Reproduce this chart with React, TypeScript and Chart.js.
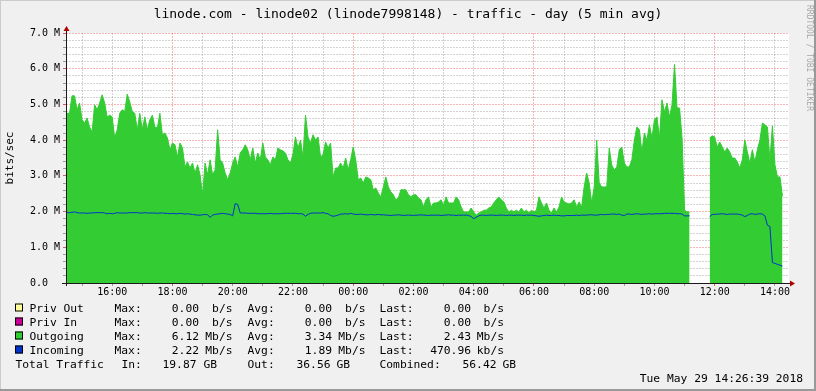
import React, { useEffect, useRef } from 'react';
import { Chart, registerables } from 'chart.js';

Chart.register(...registerables);

// ---- time base (minutes since 00:00 on May 28) ----
const AXIS_START_MINUTE = 868; // 14:28 May 28
const AXIS_END_MINUTE = 2308; // 14:28 May 29
const FIRST_SAMPLE_MINUTE = 870; // 14:30
const SAMPLE_STEP_MINUTES = 5;

// ---- series values, Mb/s, one per 5 minutes ----
const outgoingMbps: (number | null)[] = [
  4.75, 4.75, 5.24, 5.24, 4.85, 5.04, 4.57, 4.48, 4.62, 4.37,
  4.23, 4.99, 4.85, 5.04, 5.27, 5.04, 4.65, 4.70, 4.65, 4.06,
  4.29, 4.75, 4.85, 4.80, 5.29, 5.07, 4.80, 4.75, 4.29, 4.75,
  4.29, 4.65, 4.29, 4.57, 4.70, 4.37, 4.34, 4.75, 4.15, 4.20,
  4.06, 3.73, 3.92, 3.87, 3.53, 3.92, 3.78, 3.25, 3.39, 3.22,
  3.36, 3.08, 3.31, 3.03, 2.47, 3.36, 3.03, 3.45, 3.03, 3.17,
  4.29, 3.45, 3.36, 3.08, 2.89, 3.08, 3.36, 3.53, 3.25, 3.64,
  3.73, 3.87, 3.73, 3.45, 3.78, 3.36, 3.64, 3.45, 3.92, 3.53,
  3.45, 3.31, 3.53, 3.45, 3.78, 3.73, 3.70, 3.64, 3.45, 3.36,
  3.60, 4.09, 3.78, 4.00, 3.53, 4.70, 4.09, 3.92, 4.15, 4.00,
  4.09, 3.53, 3.59, 3.95, 3.78, 3.92, 2.97, 3.22, 3.22, 3.36,
  3.22, 3.50, 3.17, 3.45, 3.81, 3.45, 2.89, 2.94, 2.80, 2.97,
  2.94, 2.89, 2.61, 2.66, 2.52, 2.41, 2.69, 2.97, 2.69, 2.55,
  2.47, 2.33, 2.38, 2.61, 2.61, 2.61, 2.47, 2.41, 2.47, 2.47,
  2.38, 2.33, 2.13, 2.33, 2.41, 2.13, 2.24, 2.24, 2.27, 2.33,
  2.18, 2.41, 2.24, 2.24, 2.24, 2.41, 2.33, 2.13, 1.99, 1.99,
  1.99, 2.10, 1.99, 1.90, 1.96, 1.99, 2.04, 2.04, 2.10, 2.13,
  2.24, 2.33, 2.41, 2.33, 2.27, 2.10, 1.99, 2.04, 1.99, 2.04,
  1.99, 2.10, 1.99, 2.04, 1.96, 2.04, 1.99, 2.04, 2.41, 2.24,
  2.10, 2.24, 2.04, 1.96, 2.10, 1.99, 2.13, 2.41, 2.27, 2.24,
  2.21, 2.24, 2.33, 2.13, 2.27, 2.13, 2.69, 3.08, 2.80, 2.24,
  2.69, 4.00, 2.80, 2.69, 2.69, 2.69, 3.78, 3.30, 3.17, 3.25,
  3.73, 3.81, 3.36, 3.25, 3.25, 3.45, 4.00, 4.37, 4.29, 3.67,
  4.20, 4.00, 4.43, 4.06, 4.57, 4.65, 4.06, 5.13, 4.79, 5.04,
  4.65, 4.99, 6.12, 4.90, 4.90, 4.06, 2.04, 1.99, 1.99, null,
  null, null, null, null, null, null, 4.06, 4.12, 4.09, 3.81,
  3.95, 3.81, 3.67, 3.78, 3.67, 3.50, 3.50, 3.39, 3.22, 3.45,
  4.00, 3.67, 3.36, 3.73, 3.39, 3.73, 4.00, 4.48, 4.43, 4.37,
  3.45, 4.40, 3.31, 2.97, 2.97, 2.43,
];

const incomingMbps: (number | null)[] = [
  1.97, 1.97, 1.98, 1.99, 1.97, 1.96, 1.96, 1.96, 1.95, 1.96,
  1.96, 1.97, 1.97, 1.97, 1.97, 1.96, 1.94, 1.95, 1.94, 1.95,
  1.97, 1.96, 1.96, 1.96, 1.96, 1.97, 1.97, 1.97, 1.97, 1.96,
  1.96, 1.97, 1.96, 1.96, 1.96, 1.96, 1.95, 1.96, 1.96, 1.95,
  1.95, 1.94, 1.95, 1.94, 1.94, 1.95, 1.94, 1.93, 1.94, 1.93,
  1.92, 1.91, 1.90, 1.90, 1.91, 1.92, 1.91, 1.84, 1.90, 1.92,
  1.93, 1.94, 1.95, 1.94, 1.93, 1.92, 1.88, 2.22, 2.20, 1.96,
  1.96, 1.96, 1.95, 1.95, 1.95, 1.95, 1.94, 1.94, 1.94, 1.94,
  1.94, 1.95, 1.94, 1.94, 1.94, 1.94, 1.95, 1.95, 1.95, 1.95,
  1.95, 1.95, 1.94, 1.94, 1.93, 1.87, 1.92, 1.95, 1.96, 1.96,
  1.96, 1.96, 1.97, 1.95, 1.94, 1.89, 1.87, 1.88, 1.90, 1.93,
  1.93, 1.94, 1.93, 1.95, 1.93, 1.92, 1.92, 1.93, 1.92, 1.91,
  1.91, 1.92, 1.91, 1.91, 1.92, 1.91, 1.91, 1.90, 1.90, 1.89,
  1.90, 1.90, 1.91, 1.90, 1.89, 1.90, 1.90, 1.90, 1.89, 1.90,
  1.90, 1.91, 1.90, 1.90, 1.89, 1.90, 1.90, 1.90, 1.90, 1.89,
  1.90, 1.90, 1.91, 1.90, 1.90, 1.89, 1.90, 1.90, 1.90, 1.90,
  1.89, 1.86, 1.80, 1.84, 1.88, 1.90, 1.90, 1.89, 1.90, 1.90,
  1.90, 1.89, 1.90, 1.90, 1.90, 1.89, 1.90, 1.90, 1.89, 1.90,
  1.90, 1.90, 1.89, 1.90, 1.90, 1.90, 1.89, 1.88, 1.87, 1.88,
  1.89, 1.90, 1.89, 1.89, 1.90, 1.89, 1.89, 1.88, 1.88, 1.89,
  1.89, 1.89, 1.89, 1.90, 1.89, 1.90, 1.90, 1.90, 1.91, 1.91,
  1.90, 1.90, 1.91, 1.92, 1.91, 1.92, 1.92, 1.93, 1.93, 1.92,
  1.93, 1.90, 1.89, 1.93, 1.93, 1.92, 1.93, 1.94, 1.93, 1.92,
  1.93, 1.93, 1.94, 1.93, 1.94, 1.94, 1.94, 1.94, 1.95, 1.95,
  1.95, 1.95, 1.95, 1.94, 1.94, 1.93, 1.88, 1.88, 1.88, null,
  null, null, null, null, null, null, 1.86, 1.92, 1.92, 1.93,
  1.93, 1.94, 1.93, 1.92, 1.93, 1.93, 1.93, 1.93, 1.92, 1.90,
  1.86, 1.89, 1.93, 1.94, 1.92, 1.93, 1.94, 1.93, 1.88, 1.62,
  1.58, 0.57, 0.55, 0.52, 0.50, 0.47,
];

// ---- tick labels ----
const xTickLabels = ['16:00', '18:00', '20:00', '22:00', '00:00', '02:00', '04:00', '06:00', '08:00', '10:00', '12:00', '14:00'];
const FIRST_X_LABEL_MINUTE = 960; // 16:00
const X_LABEL_STEP_MINUTES = 120;
const X_GRID_STEP_MINUTES = 60;
const yTickLabels = ['0.0  ', '1.0 M', '2.0 M', '3.0 M', '4.0 M', '5.0 M', '6.0 M', '7.0 M'];
const Y_MINOR_STEP = 0.2;

// ---- legend ----
const seriesNames = ['Priv Out', 'Priv In', 'Outgoing', 'Incoming'];
const maxValues = ['0.00', '0.00', '6.12', '2.22'];
const maxUnits = ['b/s', 'b/s', 'Mb/s', 'Mb/s'];
const avgValues = ['0.00', '0.00', '3.34', '1.89'];
const avgUnits = ['b/s', 'b/s', 'Mb/s', 'Mb/s'];
const lastValues = ['0.00', '0.00', '2.43', '470.96'];
const lastUnits = ['b/s', 'b/s', 'Mb/s', 'kb/s'];
const totalIn = '19.87';
const totalOut = '36.56';
const totalCombined = '56.42';
const titleText = 'linode.com - linode02 (linode7998148) - traffic - day (5 min avg)';
const timestampText = 'Tue May 29 14:26:39 2018';
const watermarkText = 'RRDTOOL / TOBI OETIKER';

const COLORS = {
  back: '#F0F0F0',
  canvas: '#FFFFFF',
  privOut: '#FFFF99',
  privIn: '#CC0099',
  outgoing: '#33CC33',
  incoming: '#0033CC',
  grid: 'rgba(110,110,110,0.3)',
  mgrid: 'rgba(235,60,60,0.38)',
  axis: '#1a1a1a',
  arrow: '#B00000',
};
const legendColors = [COLORS.privOut, COLORS.privIn, COLORS.outgoing, COLORS.incoming];

const MONO = '"DejaVu Sans Mono", "Liberation Mono", monospace';

const sampleMinute = (i: number) => FIRST_SAMPLE_MINUTE + i * SAMPLE_STEP_MINUTES;

const isMajorX = (v: number) => Math.round(v) % 360 === 0;
const isMajorY = (v: number) => Math.abs(v - Math.round(v)) < 1e-6;

const decorPlugin = {
  id: 'rrdDecor',
  beforeDraw(chart: any) {
    const { ctx, width, height, chartArea: a } = chart;
    ctx.save();
    ctx.fillStyle = COLORS.back;
    ctx.fillRect(0, 0, width, height);
    ctx.fillStyle = COLORS.canvas;
    ctx.fillRect(a.left, a.top, a.right - a.left, a.bottom - a.top);
    ctx.restore();
  },
  afterDraw(chart: any) {
    const { ctx, width, height, chartArea: a } = chart;
    ctx.save();
    // axes
    ctx.strokeStyle = COLORS.axis;
    ctx.lineWidth = 1;
    ctx.beginPath();
    ctx.moveTo(a.left - 4, a.bottom + 0.5);
    ctx.lineTo(a.right + 3, a.bottom + 0.5);
    ctx.moveTo(a.left + 0.5, a.bottom + 3);
    ctx.lineTo(a.left + 0.5, a.top - 4);
    ctx.stroke();
    // arrows
    ctx.fillStyle = COLORS.arrow;
    ctx.beginPath();
    ctx.moveTo(a.right + 6, a.bottom + 0.5);
    ctx.lineTo(a.right + 1, a.bottom - 2.5);
    ctx.lineTo(a.right + 1, a.bottom + 3.5);
    ctx.closePath();
    ctx.fill();
    ctx.beginPath();
    ctx.moveTo(a.left + 0.5, a.top - 7);
    ctx.lineTo(a.left - 2.5, a.top - 2);
    ctx.lineTo(a.left + 3.5, a.top - 2);
    ctx.closePath();
    ctx.fill();

    // title
    ctx.fillStyle = '#000';
    ctx.font = `13px ${MONO}`;
    ctx.textAlign = 'center';
    ctx.textBaseline = 'alphabetic';
    ctx.fillText(titleText, width / 2, 18);

    // legend
    ctx.font = `11.3px ${MONO}`;
    const rowY = (r: number) => 311.5 + r * 14;
    for (let r = 0; r < seriesNames.length; r++) {
      const y = rowY(r);
      ctx.fillStyle = legendColors[r];
      ctx.fillRect(15, y - 8, 8, 8);
      ctx.strokeStyle = '#000';
      ctx.strokeRect(15.5, y - 7.5, 7, 7);
      ctx.fillStyle = '#000';
      ctx.textAlign = 'left';
      ctx.fillText(seriesNames[r], 29.5, y);
      ctx.fillText('Max:', 114.5, y);
      ctx.fillText('Avg:', 247.5, y);
      ctx.fillText('Last:', 379.5, y);
      ctx.textAlign = 'right';
      ctx.fillText(maxValues[r], 199, y);
      ctx.fillText(maxUnits[r], 232.5, y);
      ctx.fillText(avgValues[r], 332, y);
      ctx.fillText(avgUnits[r], 365.5, y);
      ctx.fillText(lastValues[r], 471, y);
      ctx.fillText(lastUnits[r], 504, y);
    }
    const ty = rowY(4);
    ctx.textAlign = 'left';
    ctx.fillText('Total Traffic', 15.5, ty);
    ctx.fillText('In:', 121.5, ty);
    ctx.fillText(totalIn, 162.5, ty);
    ctx.fillText('GB', 203.5, ty);
    ctx.fillText('Out:', 247.5, ty);
    ctx.fillText(totalOut, 296.5, ty);
    ctx.fillText('GB', 336.5, ty);
    ctx.fillText('Combined:', 379.5, ty);
    ctx.fillText(totalCombined, 462.5, ty);
    ctx.fillText('GB', 502.5, ty);

    // timestamp
    ctx.textAlign = 'right';
    ctx.fillText(timestampText, 803, 382);

    // watermark
    ctx.save();
    ctx.translate(809, 5);
    ctx.rotate(Math.PI / 2);
    ctx.font = `8px ${MONO}`;
    ctx.fillStyle = 'rgba(0,0,0,0.32)';
    ctx.textAlign = 'left';
    ctx.textBaseline = 'middle';
    ctx.fillText(watermarkText, 0, 0);
    ctx.restore();

    // frame
    ctx.fillStyle = '#CBCBCB';
    ctx.fillRect(0, 0, width, 1);
    ctx.fillRect(0, 0, 1, height);
    ctx.fillStyle = '#999999';
    ctx.fillRect(0, height - 2, width, 2);
    ctx.fillRect(width - 2, 0, 2, height);
    ctx.restore();
  },
};

export default function App() {
  const canvasRef = useRef<HTMLCanvasElement | null>(null);

  useEffect(() => {
    document.body.style.margin = '0';
    const canvas = canvasRef.current;
    if (!canvas) return;

    const xGridTicks: number[] = [];
    for (let m = Math.ceil(AXIS_START_MINUTE / X_GRID_STEP_MINUTES) * X_GRID_STEP_MINUTES; m < AXIS_END_MINUTE; m += X_GRID_STEP_MINUTES) {
      xGridTicks.push(m);
    }
    const yGridTicks: number[] = [];
    const yMax = yTickLabels.length - 1;
    const nY = Math.round(yMax / Y_MINOR_STEP);
    for (let k = 0; k <= nY; k++) yGridTicks.push(Math.round(k * Y_MINOR_STEP * 1000) / 1000);

    const xLabel = (v: number) => {
      const k = (v - FIRST_X_LABEL_MINUTE) / X_LABEL_STEP_MINUTES;
      if (Math.abs(k - Math.round(k)) > 1e-6) return '';
      return xTickLabels[Math.round(k)] ?? '';
    };
    const yLabel = (v: number) => (isMajorY(v) ? yTickLabels[Math.round(v)] ?? '' : '');

    const chart = new Chart(canvas, {
      type: 'line',
      data: {
        datasets: [
          {
            label: 'Incoming',
            data: incomingMbps.map((y, i) => ({ x: sampleMinute(i), y })) as any,
            borderColor: COLORS.incoming,
            borderWidth: 1,
            pointRadius: 0,
            fill: false,
            spanGaps: false,
            order: 0,
          },
          {
            label: 'Outgoing',
            data: outgoingMbps.map((y, i) => ({ x: sampleMinute(i), y })) as any,
            borderColor: COLORS.outgoing,
            backgroundColor: COLORS.outgoing,
            borderWidth: 1,
            pointRadius: 0,
            fill: 'origin',
            spanGaps: false,
            order: 1,
          },
        ],
      },
      options: {
        animation: false,
        responsive: false,
        devicePixelRatio: 1,
        events: [],
        layout: { padding: { top: 33, right: 27, bottom: 0, left: 0 } },
        plugins: { legend: { display: false }, tooltip: { enabled: false }, title: { display: false } },
        scales: {
          x: {
            type: 'linear',
            min: AXIS_START_MINUTE,
            max: AXIS_END_MINUTE,
            z: 1,
            afterFit: (s: any) => {
              s.height = 108;
            },
            afterBuildTicks: (s: any) => {
              s.ticks = xGridTicks.map((value) => ({ value }));
            },
            ticks: {
              autoSkip: false,
              maxRotation: 0,
              minRotation: 0,
              padding: 0,
              color: '#000',
              font: { family: MONO, size: 10 },
              callback: (v: any) => xLabel(Number(v)),
            },
            grid: {
              color: (c: any) => (isMajorX(c.tick?.value) ? COLORS.mgrid : COLORS.grid),
              tickColor: (c: any) => (isMajorX(c.tick?.value) ? '#d06060' : '#9a9a9a'),
              lineWidth: 1,
              tickLength: 3,
              drawTicks: true,
            },
            border: { display: false, dash: [2, 1] },
          },
          y: {
            type: 'linear',
            min: 0,
            max: yMax,
            z: 1,
            afterFit: (s: any) => {
              s.width = 66;
            },
            afterBuildTicks: (s: any) => {
              s.ticks = yGridTicks.map((value) => ({ value }));
            },
            ticks: {
              autoSkip: false,
              padding: 3,
              color: '#000',
              font: { family: MONO, size: 10 },
              callback: (v: any) => yLabel(Number(v)),
            },
            grid: {
              color: (c: any) => (isMajorY(c.tick?.value) ? COLORS.mgrid : COLORS.grid),
              tickColor: (c: any) => (isMajorY(c.tick?.value) ? '#d06060' : '#9a9a9a'),
              lineWidth: 1,
              tickLength: 3,
              drawTicks: true,
            },
            border: { display: false, dash: [2, 1] },
            title: {
              display: true,
              text: 'bits/sec',
              color: '#000',
              font: { family: MONO, size: 11 },
              padding: { top: 4, bottom: 0 },
            },
          },
        },
      },
      plugins: [decorPlugin],
    } as any);

    return () => chart.destroy();
  }, []);

  return <canvas ref={canvasRef} width={816} height={391} style={{ display: 'block', width: 816, height: 391 }} />;
}
